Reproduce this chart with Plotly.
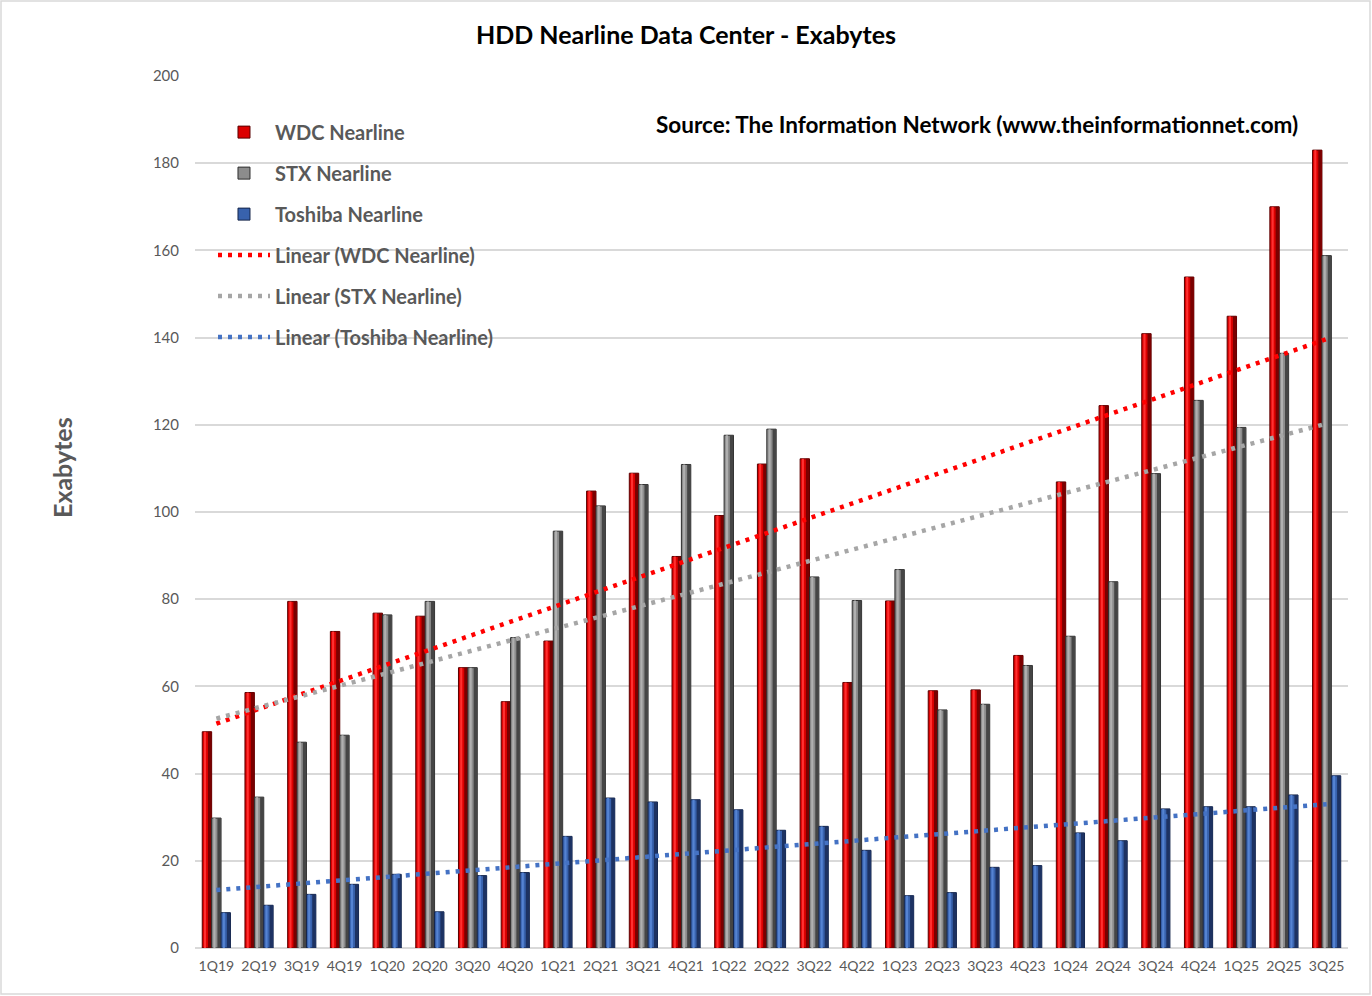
import numpy as np
import plotly.graph_objects as go

quarters = ["1Q19","2Q19","3Q19","4Q19","1Q20","2Q20","3Q20","4Q20","1Q21","2Q21","3Q21","4Q21",
            "1Q22","2Q22","3Q22","4Q22","1Q23","2Q23","3Q23","4Q23","1Q24","2Q24","3Q24","4Q24",
            "1Q25","2Q25","3Q25"]
wdc = [49.6, 58.6, 79.5, 72.6, 76.8, 76.1, 64.3, 56.5, 70.4, 104.8, 108.9, 89.8,
       99.2, 111.0, 112.2, 60.9, 79.6, 59.0, 59.2, 67.1, 106.9, 124.4, 140.9, 153.9,
       144.9, 170.0, 183.0]
stx = [29.8, 34.6, 47.2, 48.8, 76.4, 79.5, 64.3, 71.2, 95.6, 101.4, 106.3, 110.9,
       117.6, 119.0, 85.1, 79.7, 86.8, 54.6, 55.9, 64.8, 71.5, 84.0, 108.8, 125.6,
       119.4, 136.4, 158.8]
tosh = [8.1, 9.8, 12.3, 14.6, 16.9, 8.3, 16.6, 17.3, 25.6, 34.4, 33.5, 34.0,
        31.7, 27.0, 27.9, 22.4, 12.0, 12.7, 18.5, 18.9, 26.4, 24.6, 31.9, 32.4,
        32.4, 35.1, 39.5]

idx = np.arange(len(quarters))
def trend(vals):
    m, b = np.polyfit(idx, np.array(vals), 1)
    return list(m * idx + b)

LEG = "#595959"
BW = 0.22
fig = go.Figure()
series = [("WDC Nearline", wdc, "#dc0000", "#ff3030", "#7a0000", "#5a0000"),
          ("STX Nearline", stx, "#8c8c8c", "#b0b0b0", "#454545", "#2e2e2e"),
          ("Toshiba Nearline", tosh, "#3862ad", "#5583d2", "#1d3262", "#15254a")]
for k, (name, vals, fill, hi, dark, edge) in enumerate(series):
    off = -1.5 * BW + k * BW
    fig.add_trace(go.Bar(x=quarters, y=vals, name="<b>%s</b>" % name, legendgroup=name,
                         offset=off, width=BW,
                         marker=dict(color=fill, line=dict(color=edge, width=1))))
    fig.add_trace(go.Bar(x=quarters, y=vals, showlegend=False, legendgroup=name, hoverinfo="skip",
                         offset=off + 0.04, width=0.05, marker=dict(color=hi, line=dict(width=0))))
    fig.add_trace(go.Bar(x=quarters, y=vals, showlegend=False, legendgroup=name, hoverinfo="skip",
                         offset=off + 0.135, width=0.08, marker=dict(color=dark, line=dict(width=0))))
trend_cols = [("Linear (WDC Nearline)", wdc, "#ff0000"),
              ("Linear (STX Nearline)", stx, "#a6a6a6"),
              ("Linear (Toshiba Nearline)", tosh, "#4472c4")]
for name, vals, col in trend_cols:
    fig.add_trace(go.Scatter(x=quarters, y=trend(vals), name="<b>%s</b>" % name, legendgroup=name,
                             mode="lines", line=dict(color=col, width=4.5, dash="4px,6px")))

fig.update_layout(
    width=1372, height=996,
    margin=dict(l=195, r=24, t=76, b=48),
    paper_bgcolor="white", plot_bgcolor="white",
    barmode="overlay",
    font=dict(family="Lato, Open Sans, sans-serif", color=LEG),
    title=dict(text="<b>HDD Nearline Data Center - Exabytes</b>", x=0.5, xanchor="center",
               y=1 - 35/996, yanchor="middle", font=dict(size=25, color="black")),
    legend=dict(x=0.0156, y=0.958, xanchor="left", yanchor="top", bgcolor="rgba(0,0,0,0)",
                font=dict(size=20, color=LEG), tracegroupgap=12,
                itemwidth=52, traceorder="grouped"),
    xaxis=dict(showgrid=False, showline=False, ticks="", tickfont=dict(size=14, color=LEG),
               ticklabelstandoff=8, range=[-0.5, len(quarters) - 0.5]),
    yaxis=dict(range=[0, 200], dtick=20, showgrid=True, gridcolor="#d9d9d9", gridwidth=1.5,
               zeroline=True, zerolinecolor="#d9d9d9", zerolinewidth=1.5, showline=False,
               tickfont=dict(size=15, color=LEG), ticklabelstandoff=15),
)
fig.add_annotation(text="<b>Exabytes</b>", x=(62-195)/1153, y=(948-468)/872, xref="paper", yref="paper",
                   textangle=-90, showarrow=False, font=dict(size=25, color=LEG),
                   xanchor="center", yanchor="middle")
fig.add_annotation(text="<b>Source: The Information Network (www.theinformationnet.com)</b>",
                   x=(1300-195)/1153, y=(948-124)/872, xref="paper", yref="paper",
                   showarrow=False, xanchor="right", yanchor="middle",
                   font=dict(size=22.5, color="black"))
fig.add_shape(type="rect", xref="paper", yref="paper",
              x0=(1-195)/1153, x1=(1370-195)/1153, y0=(948-994)/872, y1=(948-1)/872,
              line=dict(color="#d9d9d9", width=1.5), fillcolor="rgba(0,0,0,0)", layer="below")
fig.write_html("out.html")
